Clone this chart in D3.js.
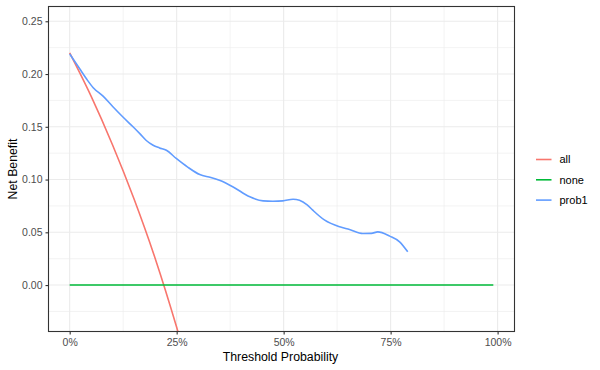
<!DOCTYPE html>
<html>
<head>
<meta charset="utf-8">
<script src="https://cdn.jsdelivr.net/npm/d3@7"></script>
<style>
  body { margin: 0; background: #fff; }
  text { font-family: "Liberation Sans", Arial, sans-serif; }
</style>
</head>
<body>
<svg id="chart" width="600" height="370"></svg>
<script>
// threshold probabilities and net benefit
var allT = [0, 0.05, 0.10, 0.15, 0.20, 0.25, 0.27];
var allNB = [0.22, 0.179, 0.133, 0.082, 0.025, -0.04, -0.068];

var noneT = [0, 0.99];
var noneNB = [0, 0];

var probT = [0, 0.0234, 0.04, 0.055, 0.078, 0.101, 0.125, 0.148, 0.165, 0.179, 0.195, 0.21, 0.226, 0.249, 0.275, 0.304, 0.33, 0.35, 0.382, 0.421, 0.452, 0.475, 0.498, 0.522, 0.537, 0.555, 0.568, 0.596, 0.631, 0.654, 0.685, 0.705, 0.72, 0.748, 0.771, 0.79];
var probNB = [0.219, 0.205, 0.195, 0.187, 0.179, 0.169, 0.159, 0.15, 0.143, 0.137, 0.1325, 0.13, 0.1277, 0.12, 0.112, 0.1047, 0.102, 0.0993, 0.093, 0.0836, 0.0798, 0.0795, 0.0798, 0.0814, 0.0804, 0.076, 0.071, 0.0615, 0.0552, 0.0527, 0.0489, 0.049, 0.0504, 0.0464, 0.041, 0.0315];

var seriesNames = ["all", "none", "prob1"];
var seriesColors = ["#F8766D", "#00BA38", "#619CFF"];

var xTicks = [0, 0.25, 0.5, 0.75, 1];
var xMinor = [0.125, 0.375, 0.625, 0.875];
var yTicks = [0, 0.05, 0.10, 0.15, 0.20, 0.25];
var yMinor = [-0.025, 0.025, 0.075, 0.125, 0.175, 0.225];

var svg = d3.select("#chart");
var panel = {left: 48.5, top: 6.5, right: 514.5, bottom: 331.5};

var x = d3.scaleLinear().domain([-0.0495, 1.0395]).range([panel.left, panel.right]);
var y = d3.scaleLinear().domain([-0.044, 0.264]).range([panel.bottom, panel.top]);

// grid
var grid = svg.append("g");
grid.selectAll(".xmin").data(xMinor).enter().append("line")
  .attr("x1", d => x(d)).attr("x2", d => x(d))
  .attr("y1", panel.top).attr("y2", panel.bottom)
  .attr("stroke", "#EBEBEB").attr("stroke-width", 0.6);
grid.selectAll(".ymin").data(yMinor).enter().append("line")
  .attr("y1", d => y(d)).attr("y2", d => y(d))
  .attr("x1", panel.left).attr("x2", panel.right)
  .attr("stroke", "#EBEBEB").attr("stroke-width", 0.6);
grid.selectAll(".xmaj").data(xTicks).enter().append("line")
  .attr("x1", d => x(d)).attr("x2", d => x(d))
  .attr("y1", panel.top).attr("y2", panel.bottom)
  .attr("stroke", "#EBEBEB").attr("stroke-width", 1.1);
grid.selectAll(".ymaj").data(yTicks).enter().append("line")
  .attr("y1", d => y(d)).attr("y2", d => y(d))
  .attr("x1", panel.left).attr("x2", panel.right)
  .attr("stroke", "#EBEBEB").attr("stroke-width", 1.1);

// clip
svg.append("clipPath").attr("id", "clip").append("rect")
  .attr("x", panel.left).attr("y", panel.top)
  .attr("width", panel.right - panel.left).attr("height", panel.bottom - panel.top);

var line = d3.line().x(d => x(d[0])).y(d => y(d[1])).curve(d3.curveMonotoneX);
var series = [d3.zip(allT, allNB), d3.zip(noneT, noneNB), d3.zip(probT, probNB)];

svg.append("g").attr("clip-path", "url(#clip)")
  .selectAll("path").data(series).enter().append("path")
  .attr("d", line)
  .attr("fill", "none")
  .attr("stroke", (d, i) => seriesColors[i])
  .attr("stroke-width", 1.6);

// panel border
svg.append("rect")
  .attr("x", panel.left).attr("y", panel.top)
  .attr("width", panel.right - panel.left).attr("height", panel.bottom - panel.top)
  .attr("fill", "none").attr("stroke", "#333333").attr("stroke-width", 1.1);

// axes
var xAxis = svg.append("g").attr("transform", "translate(0," + panel.bottom + ")")
  .call(d3.axisBottom(x).tickValues(xTicks).tickFormat(d3.format(".0%")).tickSize(3).tickPadding(4));
var yAxis = svg.append("g").attr("transform", "translate(" + panel.left + ",0)")
  .call(d3.axisLeft(y).tickValues(yTicks).tickFormat(d3.format(".2f")).tickSize(3).tickPadding(3));
[xAxis, yAxis].forEach(function(a) {
  a.select(".domain").remove();
  a.selectAll(".tick line").attr("stroke", "#333333").attr("stroke-width", 1.1);
  a.selectAll(".tick text").attr("fill", "#4D4D4D").style("font-size", "10.5px")
    .style("font-family", "'Liberation Sans', Arial, sans-serif");
});

// axis titles
svg.append("text").attr("x", (panel.left + panel.right) / 2 - 1).attr("y", 360.5)
  .attr("text-anchor", "middle").style("font-size", "12.3px").attr("fill", "#000")
  .text("Threshold Probability");
svg.append("text")
  .attr("transform", "translate(16.5," + ((panel.top + panel.bottom) / 2) + ") rotate(-90)")
  .attr("text-anchor", "middle").style("font-size", "12.3px").attr("fill", "#000")
  .text("Net Benefit");

// legend
var legend = svg.append("g").attr("transform", "translate(535,159.5)");
var items = legend.selectAll("g").data(seriesNames).enter().append("g")
  .attr("transform", (d, i) => "translate(0," + i * 20.3 + ")");
items.append("line").attr("x1", 1).attr("x2", 16.5).attr("y1", 0).attr("y2", 0)
  .attr("stroke", (d, i) => seriesColors[i]).attr("stroke-width", 1.6);
items.append("text").attr("x", 24.5).attr("y", 0).attr("dy", "0.35em")
  .style("font-size", "11px").attr("fill", "#000").text(d => d);
</script>
</body>
</html>
